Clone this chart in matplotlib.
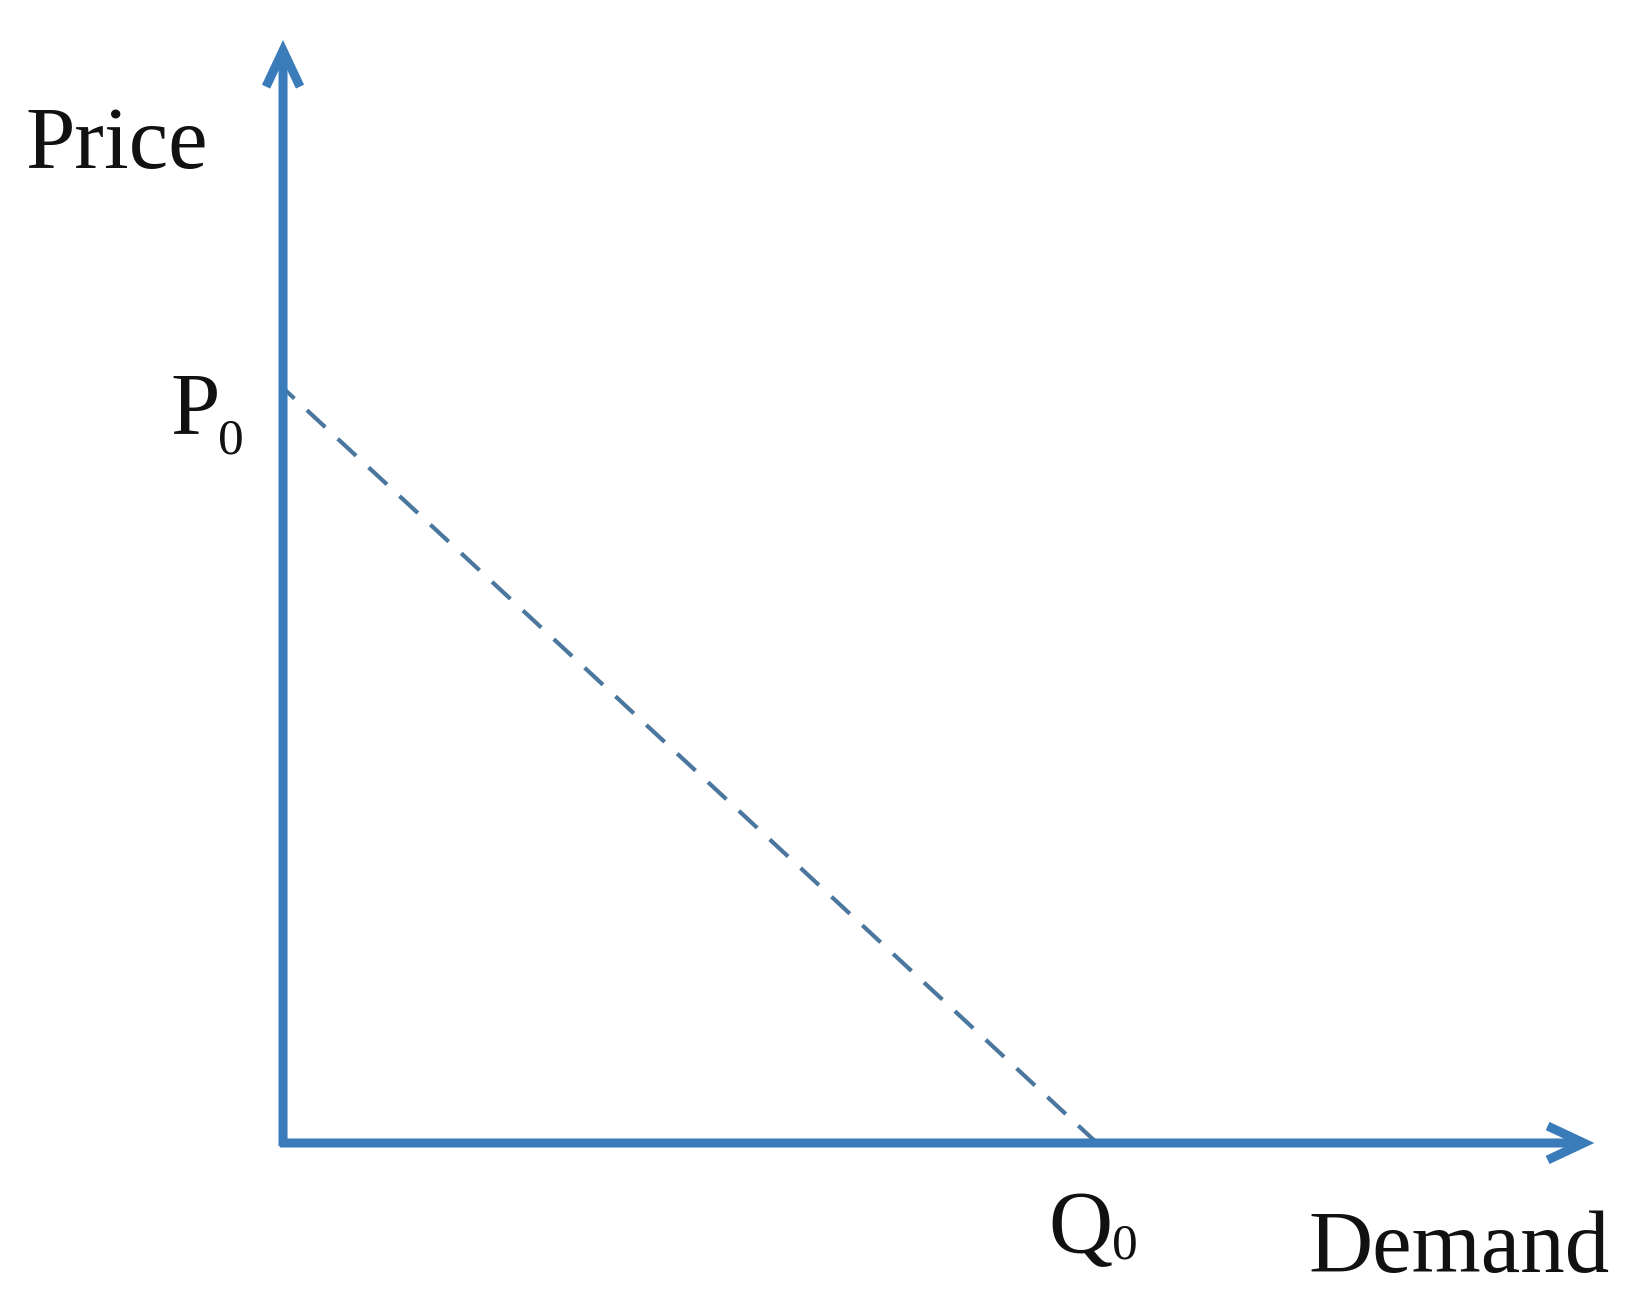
import matplotlib
matplotlib.use("Agg")
import matplotlib.pyplot as plt

# Data (normalized units): demand line from (0, P0) to (Q0, 0)
price_intercept = [1.0]     # P0
quantity_intercept = [1.0]  # Q0
curve_q = [0.0, 1.0]
curve_p = [1.0, 0.0]
axis_labels = ["Price", "Demand"]
point_labels = ["P", "Q"]
subscripts = ["0", "0"]

plt.rcParams['font.family'] = ['Liberation Serif', 'DejaVu Serif']

W, H = 1644, 1314
fig = plt.figure(figsize=(W / 100, H / 100), dpi=100)
ax = fig.add_axes([0, 0, 1, 1])
ax.set_xlim(-0.3477, 1.6720)
ax.set_ylim(-0.2265, 1.5139)
ax.axis('off')

axis_color = '#3a7bba'
dash_color = '#4b769e'
text_color = '#111111'

# dashed demand line
ax.plot(curve_q, curve_p, linestyle=(2.27, (6.0, 4.1)), color=dash_color, lw=3.0,
        solid_capstyle='butt', dash_capstyle='butt')

# axes arrows
arrow_kw = dict(arrowstyle='->,head_length=1.0,head_width=0.47', lw=6.5,
                color=axis_color, mutation_scale=26, shrinkA=0, shrinkB=0,
                capstyle='butt', joinstyle='miter')
ax.annotate('', xy=(1.611, 0), xytext=(-0.004, 0), arrowprops=arrow_kw)
ax.annotate('', xy=(0, 1.461), xytext=(0, -0.004), arrowprops=arrow_kw)

fs = 64
sfs = 37
ax.text(-0.3165, 1.2914, axis_labels[0], fontsize=fs, ha='left', va='baseline', color=text_color)
ax.text(1.2600, -0.1709, axis_labels[1], fontsize=fs, ha='left', va='baseline', color=text_color)

ax.text(-0.1388, 0.9404, point_labels[0], fontsize=fs, ha='left', va='baseline', color=text_color)
ax.text(-0.0799, 0.9130, subscripts[0], fontsize=sfs, ha='left', va='baseline', color=text_color)

ax.text(0.9398, -0.1444, point_labels[1], fontsize=fs, ha='left', va='baseline', color=text_color)
ax.text(1.0184, -0.1536, subscripts[1], fontsize=sfs, ha='left', va='baseline', color=text_color)

fig.savefig('out.png', dpi=100, facecolor='white')
